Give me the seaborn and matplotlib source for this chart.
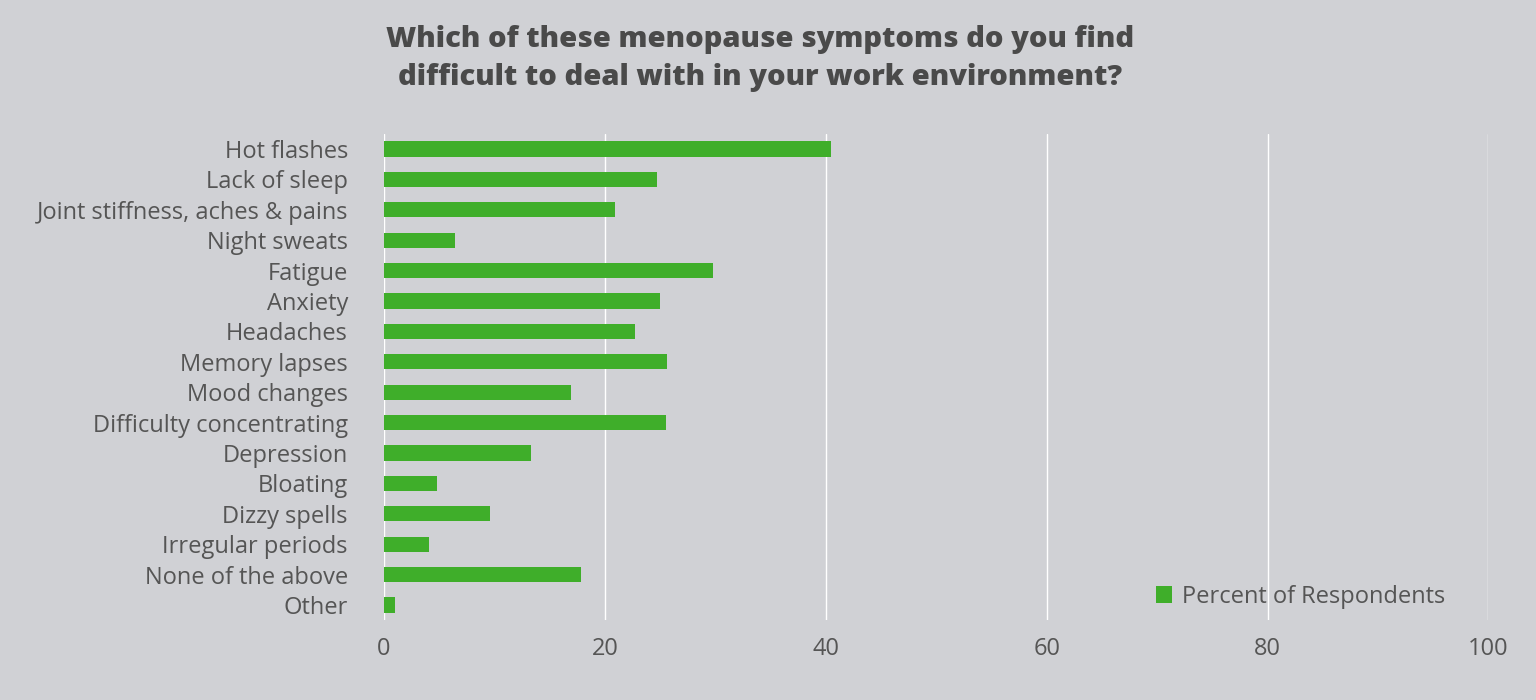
import pandas as pd
import matplotlib.pyplot as plt
import seaborn as sns

symptoms = ["Hot flashes", "Lack of sleep", "Joint stiffness, aches & pains", "Night sweats",
            "Fatigue", "Anxiety", "Headaches", "Memory lapses", "Mood changes",
            "Difficulty concentrating", "Depression", "Bloating", "Dizzy spells",
            "Irregular periods", "None of the above", "Other"]
percent = [40.5, 24.7, 20.9, 6.4, 29.8, 25.0, 22.7, 25.6, 16.9, 25.5, 13.3, 4.8, 9.6, 4.1, 17.8, 1.0]

df = pd.DataFrame({"Symptom": symptoms, "Percent": percent})

bg = "#d0d1d5"
sns.set_theme(style="white")
plt.rcParams['font.family'] = ['Open Sans', 'DejaVu Sans']

fig = plt.figure(figsize=(15.36, 7), dpi=100, facecolor=bg)
ax = fig.add_axes([0.25, 0.114, 0.719, 0.695], facecolor=bg)

sns.barplot(data=df, x="Percent", y="Symptom", color="#3fae2a", width=0.5,
            saturation=1, linewidth=0, ax=ax, label="Percent of Respondents")

ax.set_xlim(0, 100)
ax.set_xticks([0, 20, 40, 60, 80, 100])
ax.xaxis.grid(True, color="white", linewidth=1)
ax.set_axisbelow(True)
for s in ax.spines.values():
    s.set_visible(False)
ax.tick_params(axis="both", length=0, labelsize=17, colors="#555555", pad=12)
ax.tick_params(axis="y", pad=26)
ax.set_xlabel("")
ax.set_ylabel("")

leg = ax.legend(loc="lower right", bbox_to_anchor=(0.98, -0.02), frameon=False,
                fontsize=17, handlelength=0.7, handleheight=0.7, handletextpad=0.4)
for t in leg.get_texts():
    t.set_color("#555555")

fig.suptitle("Which of these menopause symptoms do you find\ndifficult to deal with in your work environment?",
             x=0.495, y=0.965, fontsize=21, fontweight="heavy", color="#4a4a4a", linespacing=1.45)

fig.savefig("out.png", dpi=100, facecolor=bg)
